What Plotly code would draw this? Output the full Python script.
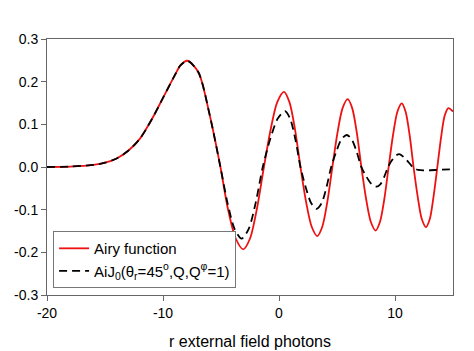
import plotly.graph_objects as go

# Airy function (red, solid)
airy_x = [-20, -18, -16, -15, -14, -13, -12, -11, -10, -9, -8.5, -7.9, -6.95, -6.0, -5.05,
          -4.42, -3.74, -3.08, -2.49, -1.89, -1.3,
          -0.72, -0.15, 0.43, 0.9, 1.38, 1.85,
          2.33, 2.82, 3.3, 3.73, 4.17, 4.6,
          5.04, 5.48, 5.92, 6.31, 6.71, 7.1,
          7.51, 7.92, 8.33, 8.7, 9.08, 9.45,
          9.83, 10.2, 10.58, 10.92, 11.26, 11.6,
          11.96, 12.31, 12.67, 13.0, 13.32, 13.65,
          13.97, 14.28, 14.6, 15.0]
airy_y = [0.000, 0.001, 0.005, 0.010, 0.020, 0.038, 0.066, 0.110, 0.162, 0.214, 0.238, 0.249, 0.222, 0.125, 0.000,
          -0.096, -0.167, -0.193, -0.167, -0.096, 0.000,
          0.088, 0.152, 0.176, 0.152, 0.088, 0.000,
          -0.081, -0.140, -0.162, -0.140, -0.081, 0.000,
          0.080, 0.138, 0.159, 0.138, 0.080, 0.000,
          -0.075, -0.129, -0.149, -0.129, -0.075, 0.000,
          0.075, 0.129, 0.149, 0.129, 0.075, 0.000,
          -0.070, -0.122, -0.141, -0.122, -0.070, 0.000,
          0.069, 0.120, 0.138, 0.130]

# AiJ0 (black, dashed)
aij_x = [-20, -18, -16, -15, -14, -13, -12, -11, -10, -9, -8.5, -7.9, -6.95, -6.0, -5.05,
         -4.44, -3.83, -3.22, -2.61, -2.01, -1.4,
         -0.76, -0.12, 0.52, 0.96, 1.41, 1.85,
         2.32, 2.78, 3.25, 3.67, 4.08, 4.5,
         4.95, 5.39, 5.84, 6.26, 6.68, 7.1,
         7.54, 7.98, 8.42, 8.75, 9.07, 9.4,
         9.72, 10.05, 10.37, 10.8, 11.2, 11.6, 12.0, 12.5, 13.5, 15.0]
aij_y = [0.000, 0.001, 0.005, 0.010, 0.020, 0.038, 0.066, 0.110, 0.162, 0.214, 0.238, 0.249, 0.222, 0.125, 0.000,
         -0.084, -0.145, -0.168, -0.145, -0.084, 0.000,
         0.065, 0.113, 0.131, 0.113, 0.065, 0.000,
         -0.049, -0.085, -0.098, -0.085, -0.049, 0.000,
         0.037, 0.065, 0.075, 0.065, 0.037, 0.000,
         -0.023, -0.040, -0.046, -0.040, -0.023, 0.000,
         0.015, 0.026, 0.030, 0.022, 0.010, -0.002, -0.007, -0.008, -0.007, -0.005]

x_ticks = [-20, -10, 0, 10]
y_ticks = [-0.3, -0.2, -0.1, 0.0, 0.1, 0.2, 0.3]

font = "Arial, Liberation Sans, sans-serif"

fig = go.Figure()
fig.add_trace(go.Scatter(x=airy_x, y=airy_y, mode="lines", name="Airy function",
                         line=dict(color="#ee1111", width=1.8, shape="spline", smoothing=0.8)))
fig.add_trace(go.Scatter(x=aij_x, y=aij_y, mode="lines",
                         name="AiJ<sub>0</sub>(θ<sub>r</sub>=45<sup>o</sup>,Q,Q<sup>φ</sup>=1)",
                         line=dict(color="black", width=1.8, dash="8px,5px", shape="spline", smoothing=0.8)))

axis_common = dict(showgrid=False, zeroline=False, showline=True, linecolor="#666666", linewidth=1,
                   mirror=True, ticks="outside", ticklen=5, tickcolor="#666666", automargin=False,
                   tickfont=dict(family=font, size=14, color="black"))

fig.update_xaxes(range=[-20, 15], tickvals=x_ticks, ticktext=[str(v) for v in x_ticks],
                 title=dict(text="r external field photons", font=dict(family=font, size=16, color="black"),
                            standoff=16),
                 **axis_common)
fig.update_yaxes(range=[-0.3, 0.3], tickvals=y_ticks, ticktext=[f"{v:.1f}" for v in y_ticks],
                 **axis_common)

fig.update_layout(
    width=474, height=351,
    margin=dict(l=47, r=21, t=39, b=56),
    paper_bgcolor="white", plot_bgcolor="white",
    font=dict(family=font, size=14, color="black"),
    legend=dict(x=0.015, y=0.027, xanchor="left", yanchor="bottom",
                bordercolor="#777777", borderwidth=1, bgcolor="white",
                font=dict(family=font, size=15, color="black"), tracegroupgap=0),
    showlegend=True,
)

fig.write_html("out.html")
